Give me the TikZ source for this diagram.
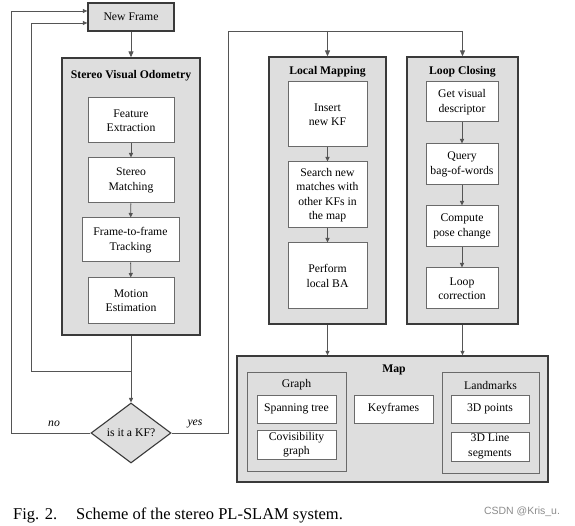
\documentclass[tikz,border=0pt]{standalone}
\usepackage{fontspec}
\setmainfont{Liberation Serif}
\newfontfamily\wmfont{Liberation Sans}
\usetikzlibrary{arrows.meta,shapes.geometric}
\definecolor{boxfill}{HTML}{DEDEDE}
\definecolor{outerline}{HTML}{3A3A3A}
\definecolor{innerline}{HTML}{6A6A6A}
\definecolor{conline}{HTML}{555555}
\tikzset{
  outerbox/.style={draw=outerline,line width=1.3pt,fill=boxfill,inner sep=0pt},
  innerbox/.style={draw=innerline,line width=1pt,fill=white,inner sep=0pt,align=center,font=\fontsize{11.7}{14.5}\selectfont},
  grpbox/.style={draw=innerline,line width=1pt,fill=boxfill,inner sep=0pt},
  titletext/.style={font=\fontsize{11.7}{14}\selectfont\bfseries,inner sep=0pt},
  plaintext/.style={font=\fontsize{11.7}{14}\selectfont,inner sep=0pt},
  conn/.style={draw=conline,line width=0.9pt},
  arr/.style={conn,-{Triangle[length=6pt,width=5pt]}},
  sarr/.style={conn,-{Triangle[length=4.5pt,width=4pt]}},
}
\begin{document}
\begin{tikzpicture}[x=1pt,y=-1pt]
\useasboundingbox (0,0) rectangle (575,526);
% New frame
\node[outerbox,minimum width=86pt,minimum height=28pt,font=\fontsize{11.7}{14}\selectfont] (nf) at (131,17) {New Frame};
% Stereo Visual Odometry
\node[outerbox,minimum width=138pt,minimum height=277pt] (svo) at (131,196.5) {};
\node[titletext] (svot) at (131,76) {Stereo Visual Odometry};
\node[innerbox,minimum width=86pt,minimum height=45pt] (fe) at (131,120.5) {Feature\\Extraction};
\node[innerbox,minimum width=86pt,minimum height=45pt] (sm) at (131,180.5) {Stereo\\Matching};
\node[innerbox,minimum width=97pt,minimum height=44pt] (ft) at (130.5,240) {Frame-to-frame\\Tracking};
\node[innerbox,minimum width=86pt,minimum height=45pt] (me) at (131,300.5) {Motion\\Estimation};
% Decision
\node[diamond,draw=outerline,line width=1.1pt,fill=boxfill,minimum width=80pt,minimum height=60pt,inner sep=0pt,font=\fontsize{11.7}{14}\selectfont] (kf) at (131,433) {is it a KF?};
% Local Mapping
\node[outerbox,minimum width=117pt,minimum height=267pt] (lm) at (327.5,190.5) {};
\node[titletext] (lmt) at (327.5,72) {Local Mapping};
\node[innerbox,minimum width=79pt,minimum height=65pt] (ins) at (327.5,114.5) {Insert\\new KF};
\node[innerbox,minimum width=79pt,minimum height=66pt] (srch) at (327.5,195) {Search new\\matches with\\other KFs in\\the map};
\node[innerbox,minimum width=79pt,minimum height=66pt] (ba) at (327.5,276) {Perform\\local BA};
% Loop Closing
\node[outerbox,minimum width=111pt,minimum height=267pt] (lc) at (462.5,190.5) {};
\node[titletext] (lct) at (462.5,72) {Loop Closing};
\node[innerbox,minimum width=72pt,minimum height=40pt] (gvd) at (462,102) {Get visual\\descriptor};
\node[innerbox,minimum width=72pt,minimum height=41pt] (qb) at (462,164.5) {Query\\bag-of-words};
\node[innerbox,minimum width=72pt,minimum height=41pt] (cpc) at (462,226.5) {Compute\\pose change};
\node[innerbox,minimum width=72pt,minimum height=41pt] (lcor) at (462,288.5) {Loop\\correction};
% Map
\node[outerbox,minimum width=311pt,minimum height=126pt] (map) at (392.5,419) {};
\node[titletext] (mapt) at (394,370) {Map};
\node[grpbox,minimum width=99pt,minimum height=99pt] (graph) at (296.5,421.5) {};
\node[plaintext] (grapht) at (296.5,385) {Graph};
\node[innerbox,minimum width=79pt,minimum height=28pt] (span) at (296.5,409) {Spanning tree};
\node[innerbox,minimum width=79pt,minimum height=29pt] (covis) at (296.5,444.5) {Covisibility\\graph};
\node[innerbox,minimum width=79pt,minimum height=28pt] (kfr) at (393.5,409) {Keyframes};
\node[grpbox,minimum width=97pt,minimum height=101pt] (landm) at (490.5,422.5) {};
\node[plaintext] (landmt) at (490.5,385) {Landmarks};
\node[innerbox,minimum width=78pt,minimum height=28pt] (p3d) at (490,409) {3D points};
\node[innerbox,minimum width=78pt,minimum height=29pt] (l3d) at (490,446.5) {3D Line\\segments};
% connectors
\draw[arr] (nf) -- (svo);
\draw[sarr] (fe) -- (sm);
\draw[sarr] (sm) -- (ft);
\draw[sarr] (ft) -- (me);
\draw[sarr] (ins) -- (srch);
\draw[sarr] (srch) -- (ba);
\draw[sarr] (gvd) -- (qb);
\draw[sarr] (qb) -- (cpc);
\draw[sarr] (cpc) -- (lcor);
\draw[sarr] (svo.south) -- (kf.north);
\coordinate (j) at (131,371);
\coordinate (fb1) at (31,371);
\coordinate (fb2) at (31,23);
\draw[sarr] (j) -- (fb1) -- (fb2) -- (nf.west |- fb2);
\coordinate (no1) at (11,433);
\coordinate (no2) at (11,11);
\draw[sarr] (kf.west) -- (no1) -- (no2) -- (nf.west |- no2);
\coordinate (y1) at (228,433);
\coordinate (y2) at (228,31);
\coordinate (y3) at (462.5,31);
\draw[conn] (kf.east) -- (y1) -- (y2) -- (y3);
\draw[arr] (lm.north |- y2) -- (lm.north);
\draw[arr] (y3) -- (lc.north);
\draw[sarr] (lm.south) -- (lm.south |- map.north);
\draw[sarr] (lc.south) -- (lc.south |- map.north);
\node[plaintext,font=\fontsize{11.7}{14}\selectfont\itshape] (nol) at (54,424) {no};
\node[plaintext,font=\fontsize{11.7}{14}\selectfont\itshape] (yesl) at (195,424) {yes};
% caption
\node[anchor=base west,inner sep=0pt,font=\fontsize{16.5}{18}\selectfont] (capa) at (13,519) {Fig. 2.};
\node[anchor=base west,inner sep=0pt,font=\fontsize{16.5}{18}\selectfont] (capb) at (76,519) {Scheme of the stereo PL-SLAM system.};
\node[inner sep=0pt,text=black!45,font=\wmfont\fontsize{10.5}{12}\selectfont] (wm) at (522,512) {CSDN @Kris\_u.};
\end{tikzpicture}
\end{document}
